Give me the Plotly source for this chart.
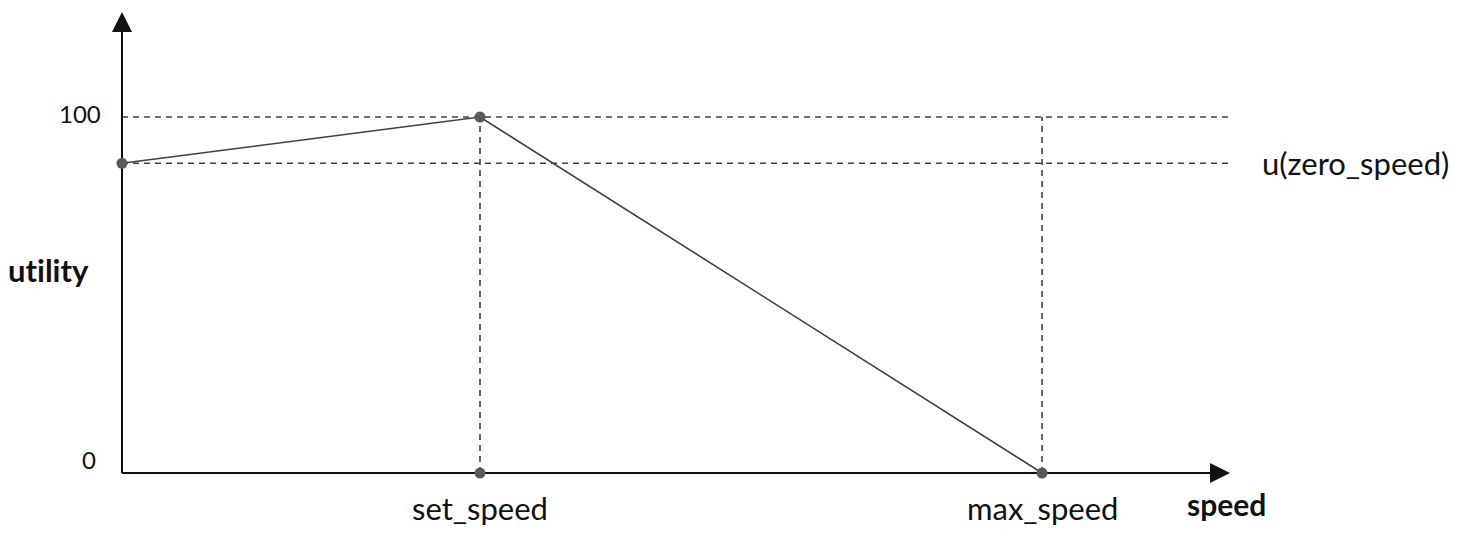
import plotly.graph_objects as go

# ---- data ----
speed_points = [0, 100, 257]          # zero_speed, set_speed, max_speed
utility_points = [87, 100, 0]         # utility at those speeds
x_tick_values = [100, 257]
x_tick_text = ["set_speed", "max_speed"]
y_tick_values = [0, 100]
y_tick_text = ["0", "100"]
u_zero_value = 87
u_zero_label = "u(zero_speed)"
x_title = "speed"
y_title = "utility"
axis_end_speed = 309.5
axis_end_utility = 129.5

FONT = "Lato"
DARK = "#404040"
DOT = "#5a5a5a"

W, H = 1456, 526          # page body has an 8px margin
X0, Y0 = 114, 465         # origin in figure pixels
KX, KY = 3.58, 3.56       # pixels per unit

fig = go.Figure()

# dashed guide lines
for u in [100, u_zero_value]:
    fig.add_shape(type="line", x0=0, x1=axis_end_speed, y0=u, y1=u, layer="below",
                  line=dict(color=DARK, width=1.6, dash="6px,5px"))
for s in x_tick_values:
    fig.add_shape(type="line", x0=s, x1=s, y0=0, y1=100, layer="below",
                  line=dict(color=DARK, width=1.6, dash="6px,5px"))

# axes lines
fig.add_shape(type="line", x0=0, x1=axis_end_speed - 5, y0=0, y1=0, layer="below",
              line=dict(color="#111111", width=2))
fig.add_shape(type="line", x0=0, x1=0, y0=0, y1=axis_end_utility - 5, layer="below",
              line=dict(color="#111111", width=2))

# utility curve
fig.add_trace(go.Scatter(x=speed_points, y=utility_points, mode="lines+markers",
                         line=dict(color=DARK, width=1.6),
                         marker=dict(color=DOT, size=11), cliponaxis=False,
                         showlegend=False, hoverinfo="skip"))
# marker at set_speed on the axis
fig.add_trace(go.Scatter(x=[x_tick_values[0]], y=[0], mode="markers",
                         marker=dict(color=DOT, size=11), cliponaxis=False,
                         showlegend=False, hoverinfo="skip"))

ann = []
# arrow heads
ann.append(dict(x=axis_end_speed, y=0, ax=axis_end_speed - 12, ay=0, xref="x", yref="y",
                axref="x", ayref="y", showarrow=True, arrowhead=2, arrowsize=2,
                arrowwidth=2, arrowcolor="#111111", text=""))
ann.append(dict(x=0, y=axis_end_utility, ax=0, ay=axis_end_utility - 12, xref="x", yref="y",
                axref="x", ayref="y", showarrow=True, arrowhead=2, arrowsize=2,
                arrowwidth=2, arrowcolor="#111111", text=""))

# y tick labels
ann.append(dict(x=0, y=y_tick_values[1], text=y_tick_text[1], showarrow=False,
                xanchor="right", xshift=-19, yshift=4,
                font=dict(family=FONT, size=24, color="#111")))
ann.append(dict(x=0, y=y_tick_values[0], text=y_tick_text[0], showarrow=False,
                xanchor="right", xshift=-24, yshift=14,
                font=dict(family=FONT, size=24, color="#111")))
# x tick labels
for v, t in zip(x_tick_values, x_tick_text):
    ann.append(dict(x=v, y=0, text=t, showarrow=False, yshift=-35,
                    font=dict(family=FONT, size=31, color="#111")))
# u(zero_speed)
ann.append(dict(x=axis_end_speed, y=u_zero_value, text=u_zero_label, showarrow=False,
                xanchor="left", xshift=30,
                font=dict(family=FONT, size=31, color="#111")))
# axis titles (zero-width non-joiner avoids the Lato "ti" ligature)
ann.append(dict(x=(48 - 8) / W, y=1 - (270 - 8) / H, xref="paper", yref="paper",
                xanchor="center", yanchor="middle",
                text="<b>" + y_title.replace("ti", "t\u200ci") + "</b>", showarrow=False,
                font=dict(family=FONT, size=31, color="#111")))
ann.append(dict(x=(1226 - 8) / W, y=1 - (504 - 8) / H, xref="paper", yref="paper",
                xanchor="center", yanchor="middle",
                text="<b>" + x_title + "</b>", showarrow=False,
                font=dict(family=FONT, size=30, color="#111")))

fig.update_layout(
    width=W, height=H,
    margin=dict(l=0, r=0, t=0, b=0),
    paper_bgcolor="white", plot_bgcolor="white",
    xaxis=dict(range=[-X0 / KX, (W - X0) / KX], visible=False, fixedrange=True),
    yaxis=dict(range=[(Y0 - H) / KY, Y0 / KY], visible=False, fixedrange=True),
    annotations=ann,
)

fig.write_html("out.html")
